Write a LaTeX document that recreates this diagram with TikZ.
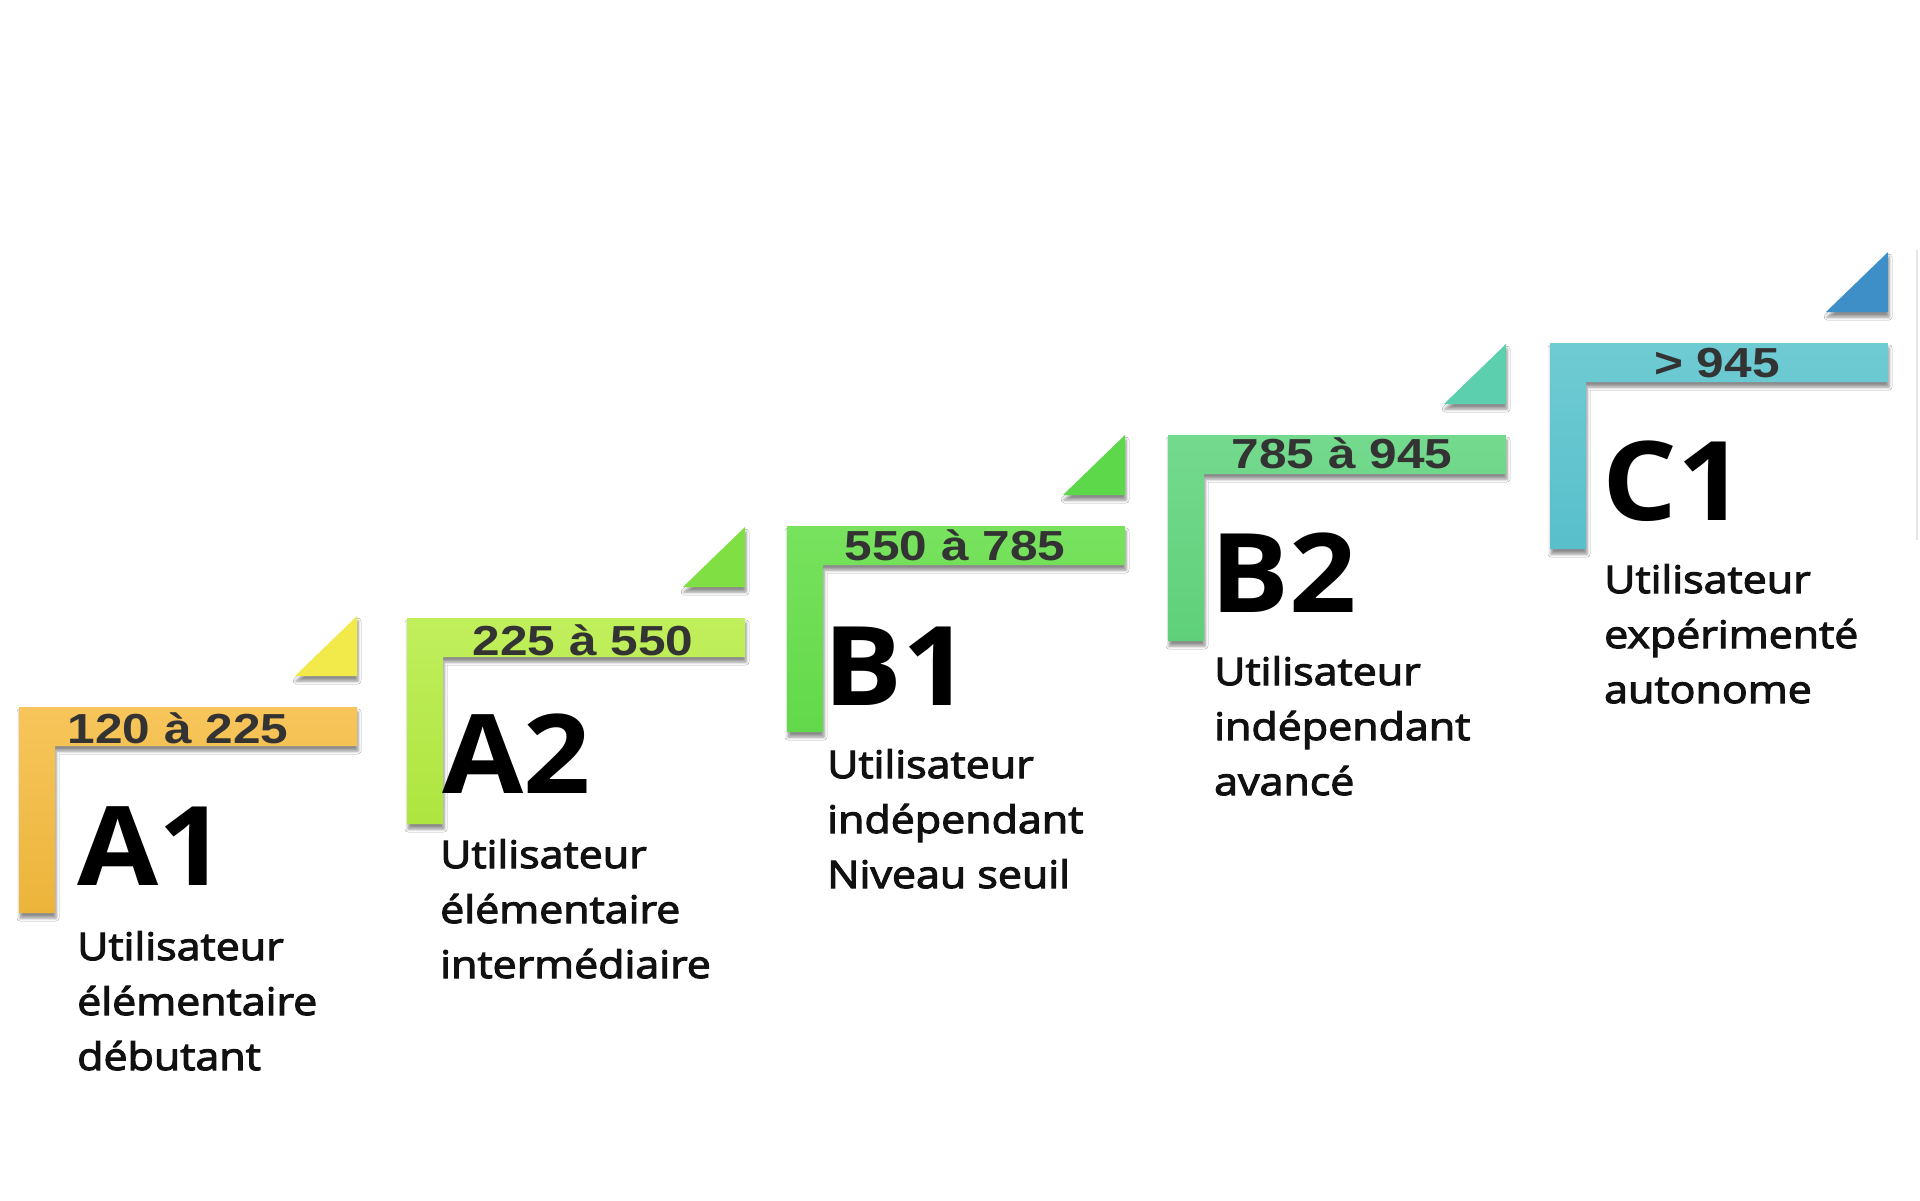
\documentclass[tikz,border=0pt]{standalone}
\usepackage{fontspec}
\usetikzlibrary{shadows.blur}
\setmainfont{Open Sans}
\newfontfamily\numfont{Liberation Sans}[FakeStretch=1.18]
\newfontfamily\lvlfont{Open Sans}[FakeStretch=1.07]
\newfontfamily\descfont{Open Sans}[FakeBold=3, FakeStretch=1.13]
\definecolor{numgray}{HTML}{333333}
\definecolor{desctxt}{HTML}{111111}
\definecolor{aOneT}{HTML}{F7C55B}\definecolor{aOneB}{HTML}{ECB43A}\definecolor{aOneTri}{HTML}{F2E94B}
\definecolor{aTwoT}{HTML}{C0EF5C}\definecolor{aTwoB}{HTML}{AEE53F}\definecolor{aTwoTri}{HTML}{80E043}
\definecolor{bOneT}{HTML}{78E25E}\definecolor{bOneB}{HTML}{62D94A}\definecolor{bOneTri}{HTML}{5DD84A}
\definecolor{bTwoT}{HTML}{74DA8E}\definecolor{bTwoB}{HTML}{5FD07A}\definecolor{bTwoTri}{HTML}{5CCFAE}
\definecolor{cOneT}{HTML}{6FCBD3}\definecolor{cOneB}{HTML}{58BFCB}\definecolor{cOneTri}{HTML}{3E8FC8}
\newcommand\levelstep[5]{%
  \path[stepshadow, top color=#3, bottom color=#4]
    (#1,#2) -- ++(338,0) -- ++(0,39) -- ++(-302,0) -- ++(0,167) -- ++(-36,0) -- cycle;
  \path[stepshadow, fill=#5]
    (#1+276,#2-31) -- ++(62,0) -- ++(0,-60) -- cycle;
}
\tikzset{
  stepshadow/.style={blur shadow={shadow xshift=1pt, shadow yshift=-5pt, shadow blur radius=3pt, shadow opacity=45}},
  numlbl/.style={anchor=base, inner sep=0pt, text=numgray, font=\numfont\bfseries\fontsize{42}{42}\selectfont},
  lvl/.style={anchor=base west, inner sep=0pt, text=black, font=\lvlfont\bfseries\fontsize{110}{110}\selectfont},
  desc/.style={anchor=base west, inner sep=0pt, align=left, text=desctxt, font=\descfont\fontsize{38}{55}\selectfont},
}
\begin{document}
\begin{tikzpicture}[x=1pt,y=-1pt]
\useasboundingbox[fill=white] (0,0) rectangle (1920,1200);
% faint line at the right edge
\draw[gray!20, line width=2pt] (1917,250) -- (1917,540);
% steps
\levelstep{19}{707}{aOneT}{aOneB}{aOneTri}
\levelstep{407}{618}{aTwoT}{aTwoB}{aTwoTri}
\levelstep{787}{526}{bOneT}{bOneB}{bOneTri}
\levelstep{1168}{435}{bTwoT}{bTwoB}{bTwoTri}
\levelstep{1550}{343}{cOneT}{cOneB}{cOneTri}
% score ranges
\node[numlbl] (n1) at (178,743) {120 à 225};
\node[numlbl] (n2) at (583,655) {225 à 550};
\node[numlbl] (n3) at (955,560) {550 à 785};
\node[numlbl] (n4) at (1342,468) {785 à 945};
\node[numlbl] (n5) at (1717,377) {> 945};
% levels
\node[lvl] (l1) at (77,885) {A1};
\node[lvl] (l2) at (442,793) {A2};
\node[lvl] (l3) at (823,705) {B1};
\node[lvl] (l4) at (1210,612) {B2};
\node[lvl] (l5) at (1602,520) {C1};
% descriptions (anchored at the baseline of the last line)
\node[desc] (d1) at (77,1070) {Utilisateur\\élémentaire\\débutant};
\node[desc] (d2) at (440,978) {Utilisateur\\élémentaire\\intermédiaire};
\node[desc] (d3) at (827,888) {Utilisateur\\indépendant\\Niveau seuil};
\node[desc] (d4) at (1214,795) {Utilisateur\\indépendant\\avancé};
\node[desc] (d5) at (1604,703) {Utilisateur\\expérimenté\\autonome};
\end{tikzpicture}
\end{document}
